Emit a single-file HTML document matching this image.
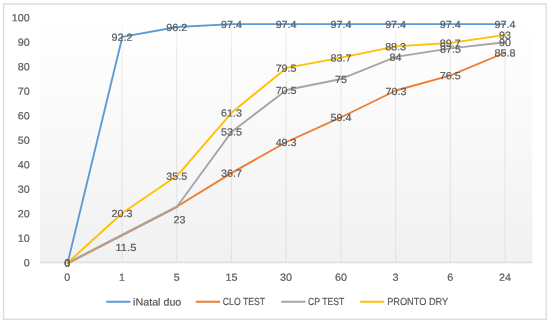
<!DOCTYPE html>
<html><head><meta charset="utf-8"><title>chart</title>
<style>
html,body{margin:0;padding:0;background:#fff;}
body{width:550px;height:324px;overflow:hidden;}
svg{display:block}
text{font-family:"Liberation Sans",sans-serif;font-size:10.3px;fill:#595959;stroke:#595959;stroke-width:0.2px}
</style></head><body>
<svg width="550" height="324" viewBox="0 0 550 324">
<defs><linearGradient id="pg" x1="0" y1="0" x2="0" y2="1">
<stop offset="0" stop-color="#ffffff"/><stop offset="0.3" stop-color="#fbfbfb"/><stop offset="1" stop-color="#f1f1f1"/></linearGradient>
<linearGradient id="gg" x1="0" y1="0" x2="0" y2="1">
<stop offset="0" stop-color="#ffffff"/><stop offset="0.07" stop-color="#efefef"/><stop offset="0.18" stop-color="#e6e6e6"/><stop offset="1" stop-color="#e1e1e1"/></linearGradient></defs>
<rect x="0" y="0" width="550" height="324" fill="#fff"/>
<rect x="3.6" y="3.9" width="542.6" height="315.4" fill="#fff" stroke="#dddddd" stroke-width="1.4"/>
<rect x="39.94" y="17.3" width="492.39" height="245.10" fill="url(#pg)"/>

<rect x="121.5" y="17.3" width="1" height="245.1" fill="url(#gg)"/>
<rect x="176.2" y="17.3" width="1" height="245.1" fill="url(#gg)"/>
<rect x="230.9" y="17.3" width="1" height="245.1" fill="url(#gg)"/>
<rect x="285.6" y="17.3" width="1" height="245.1" fill="url(#gg)"/>
<rect x="340.4" y="17.3" width="1" height="245.1" fill="url(#gg)"/>
<rect x="395.1" y="17.3" width="1" height="245.1" fill="url(#gg)"/>
<rect x="449.8" y="17.3" width="1" height="245.1" fill="url(#gg)"/>
<rect x="504.5" y="17.3" width="1" height="245.1" fill="url(#gg)"/>
<line x1="39.9" y1="262.4" x2="532.3" y2="262.4" stroke="#e0e0e0" stroke-width="1.5"/>
<text transform="rotate(0.03 29.7 266.3)" x="29.7" y="266.3" text-anchor="end" textLength="5.98" lengthAdjust="spacingAndGlyphs">0</text>
<text transform="rotate(0.03 29.7 241.8)" x="29.7" y="241.8" text-anchor="end" textLength="11.97" lengthAdjust="spacingAndGlyphs">10</text>
<text transform="rotate(0.03 29.7 217.3)" x="29.7" y="217.3" text-anchor="end" textLength="11.97" lengthAdjust="spacingAndGlyphs">20</text>
<text transform="rotate(0.03 29.7 192.8)" x="29.7" y="192.8" text-anchor="end" textLength="11.97" lengthAdjust="spacingAndGlyphs">30</text>
<text transform="rotate(0.03 29.7 168.3)" x="29.7" y="168.3" text-anchor="end" textLength="11.97" lengthAdjust="spacingAndGlyphs">40</text>
<text transform="rotate(0.03 29.7 143.8)" x="29.7" y="143.8" text-anchor="end" textLength="11.97" lengthAdjust="spacingAndGlyphs">50</text>
<text transform="rotate(0.03 29.7 119.2)" x="29.7" y="119.2" text-anchor="end" textLength="11.97" lengthAdjust="spacingAndGlyphs">60</text>
<text transform="rotate(0.03 29.7 94.7)" x="29.7" y="94.7" text-anchor="end" textLength="11.97" lengthAdjust="spacingAndGlyphs">70</text>
<text transform="rotate(0.03 29.7 70.2)" x="29.7" y="70.2" text-anchor="end" textLength="11.97" lengthAdjust="spacingAndGlyphs">80</text>
<text transform="rotate(0.03 29.7 45.7)" x="29.7" y="45.7" text-anchor="end" textLength="11.97" lengthAdjust="spacingAndGlyphs">90</text>
<text transform="rotate(0.03 29.7 21.2)" x="29.7" y="21.2" text-anchor="end" textLength="17.95" lengthAdjust="spacingAndGlyphs">100</text>
<text transform="rotate(0.03 67.3 280.8)" x="67.3" y="280.8" text-anchor="middle" textLength="5.98" lengthAdjust="spacingAndGlyphs">0</text>
<text transform="rotate(0.03 122.0 280.8)" x="122.0" y="280.8" text-anchor="middle" textLength="5.98" lengthAdjust="spacingAndGlyphs">1</text>
<text transform="rotate(0.03 176.7 280.8)" x="176.7" y="280.8" text-anchor="middle" textLength="5.98" lengthAdjust="spacingAndGlyphs">5</text>
<text transform="rotate(0.03 231.4 280.8)" x="231.4" y="280.8" text-anchor="middle" textLength="11.97" lengthAdjust="spacingAndGlyphs">15</text>
<text transform="rotate(0.03 286.1 280.8)" x="286.1" y="280.8" text-anchor="middle" textLength="11.97" lengthAdjust="spacingAndGlyphs">30</text>
<text transform="rotate(0.03 340.9 280.8)" x="340.9" y="280.8" text-anchor="middle" textLength="11.97" lengthAdjust="spacingAndGlyphs">60</text>
<text transform="rotate(0.03 395.6 280.8)" x="395.6" y="280.8" text-anchor="middle" textLength="5.98" lengthAdjust="spacingAndGlyphs">3</text>
<text transform="rotate(0.03 450.3 280.8)" x="450.3" y="280.8" text-anchor="middle" textLength="5.98" lengthAdjust="spacingAndGlyphs">6</text>
<text transform="rotate(0.03 505.0 280.8)" x="505.0" y="280.8" text-anchor="middle" textLength="11.97" lengthAdjust="spacingAndGlyphs">24</text>
<g transform="translate(0.35,0.4)">
<polyline points="67.30,262.40 122.01,36.42 176.72,26.61 231.43,23.67 286.14,23.67 340.85,23.67 395.56,23.67 450.27,23.67 504.98,23.67" fill="none" stroke="#5B9BD5" stroke-width="1.85" stroke-linejoin="round" stroke-linecap="round"/>
<polyline points="67.50,262.95 122.21,234.76 176.92,206.58" fill="none" stroke="#ED7D31" stroke-width="1.85" stroke-linejoin="round" stroke-linecap="round"/>
<polyline points="176.72,206.03 231.43,172.45 286.14,141.57 340.85,116.81 395.56,90.09 450.27,74.90 504.98,52.10" fill="none" stroke="#ED7D31" stroke-width="1.85" stroke-linejoin="round" stroke-linecap="round"/>
<polyline points="67.30,262.40 122.01,234.21 176.72,206.03 231.43,131.27 286.14,89.60 340.85,78.58 395.56,56.52 450.27,47.94 504.98,41.81" fill="none" stroke="#A5A5A5" stroke-width="1.85" stroke-linejoin="round" stroke-linecap="round"/>
<polyline points="67.30,262.40 122.01,212.64 176.72,175.39 231.43,112.15 286.14,67.55 340.85,57.25 395.56,45.98 450.27,42.55 504.98,34.46" fill="none" stroke="#FFC000" stroke-width="1.85" stroke-linejoin="round" stroke-linecap="round"/>
</g>
<text transform="rotate(0.03 67.3 266.5)" x="67.3" y="266.5" text-anchor="middle" textLength="5.98" lengthAdjust="spacingAndGlyphs">0</text>
<text transform="rotate(0.03 122.0 40.7)" x="122.0" y="40.7" text-anchor="middle" textLength="20.95" lengthAdjust="spacingAndGlyphs">92.2</text>
<text transform="rotate(0.03 176.7 30.9)" x="176.7" y="30.9" text-anchor="middle" textLength="20.95" lengthAdjust="spacingAndGlyphs">96.2</text>
<text transform="rotate(0.03 231.4 28.0)" x="231.4" y="28.0" text-anchor="middle" textLength="20.95" lengthAdjust="spacingAndGlyphs">97.4</text>
<text transform="rotate(0.03 286.1 28.0)" x="286.1" y="28.0" text-anchor="middle" textLength="20.95" lengthAdjust="spacingAndGlyphs">97.4</text>
<text transform="rotate(0.03 340.9 28.0)" x="340.9" y="28.0" text-anchor="middle" textLength="20.95" lengthAdjust="spacingAndGlyphs">97.4</text>
<text transform="rotate(0.03 395.6 28.0)" x="395.6" y="28.0" text-anchor="middle" textLength="20.95" lengthAdjust="spacingAndGlyphs">97.4</text>
<text transform="rotate(0.03 450.3 28.0)" x="450.3" y="28.0" text-anchor="middle" textLength="20.95" lengthAdjust="spacingAndGlyphs">97.4</text>
<text transform="rotate(0.03 505.0 28.0)" x="505.0" y="28.0" text-anchor="middle" textLength="20.95" lengthAdjust="spacingAndGlyphs">97.4</text>
<text transform="rotate(0.03 67.3 266.5)" x="67.3" y="266.5" text-anchor="middle" textLength="5.98" lengthAdjust="spacingAndGlyphs">0</text>
<text transform="rotate(0.03 125.9 251.0)" x="125.9" y="251.0" text-anchor="middle" textLength="20.95" lengthAdjust="spacingAndGlyphs">11.5</text>
<text transform="rotate(0.03 179.6 223.2)" x="179.6" y="223.2" text-anchor="middle" textLength="11.97" lengthAdjust="spacingAndGlyphs">23</text>
<text transform="rotate(0.03 231.4 176.7)" x="231.4" y="176.7" text-anchor="middle" textLength="20.95" lengthAdjust="spacingAndGlyphs">36.7</text>
<text transform="rotate(0.03 286.1 145.9)" x="286.1" y="145.9" text-anchor="middle" textLength="20.95" lengthAdjust="spacingAndGlyphs">49.3</text>
<text transform="rotate(0.03 340.9 121.1)" x="340.9" y="121.1" text-anchor="middle" textLength="20.95" lengthAdjust="spacingAndGlyphs">59.4</text>
<text transform="rotate(0.03 396.0 94.9)" x="396.0" y="94.9" text-anchor="middle" textLength="20.95" lengthAdjust="spacingAndGlyphs">70.3</text>
<text transform="rotate(0.03 450.3 79.2)" x="450.3" y="79.2" text-anchor="middle" textLength="20.95" lengthAdjust="spacingAndGlyphs">76.5</text>
<text transform="rotate(0.03 505.0 56.4)" x="505.0" y="56.4" text-anchor="middle" textLength="20.95" lengthAdjust="spacingAndGlyphs">85.8</text>
<text transform="rotate(0.03 231.4 135.6)" x="231.4" y="135.6" text-anchor="middle" textLength="20.95" lengthAdjust="spacingAndGlyphs">53.5</text>
<text transform="rotate(0.03 286.1 93.9)" x="286.1" y="93.9" text-anchor="middle" textLength="20.95" lengthAdjust="spacingAndGlyphs">70.5</text>
<text transform="rotate(0.03 340.9 82.9)" x="340.9" y="82.9" text-anchor="middle" textLength="11.97" lengthAdjust="spacingAndGlyphs">75</text>
<text transform="rotate(0.03 395.6 60.8)" x="395.6" y="60.8" text-anchor="middle" textLength="11.97" lengthAdjust="spacingAndGlyphs">84</text>
<text transform="rotate(0.03 450.4 52.8)" x="450.4" y="52.8" text-anchor="middle" textLength="20.95" lengthAdjust="spacingAndGlyphs">87.5</text>
<text transform="rotate(0.03 505.0 46.1)" x="505.0" y="46.1" text-anchor="middle" textLength="11.97" lengthAdjust="spacingAndGlyphs">90</text>
<text transform="rotate(0.03 122.0 216.9)" x="122.0" y="216.9" text-anchor="middle" textLength="20.95" lengthAdjust="spacingAndGlyphs">20.3</text>
<text transform="rotate(0.03 176.7 179.7)" x="176.7" y="179.7" text-anchor="middle" textLength="20.95" lengthAdjust="spacingAndGlyphs">35.5</text>
<text transform="rotate(0.03 231.4 116.5)" x="231.4" y="116.5" text-anchor="middle" textLength="20.95" lengthAdjust="spacingAndGlyphs">61.3</text>
<text transform="rotate(0.03 286.1 71.8)" x="286.1" y="71.8" text-anchor="middle" textLength="20.95" lengthAdjust="spacingAndGlyphs">79.5</text>
<text transform="rotate(0.03 340.9 61.6)" x="340.9" y="61.6" text-anchor="middle" textLength="20.95" lengthAdjust="spacingAndGlyphs">83.7</text>
<text transform="rotate(0.03 395.6 50.3)" x="395.6" y="50.3" text-anchor="middle" textLength="20.95" lengthAdjust="spacingAndGlyphs">88.3</text>
<text transform="rotate(0.03 450.3 46.8)" x="450.3" y="46.8" text-anchor="middle" textLength="20.95" lengthAdjust="spacingAndGlyphs">89.7</text>
<text transform="rotate(0.03 505.0 38.8)" x="505.0" y="38.8" text-anchor="middle" textLength="11.97" lengthAdjust="spacingAndGlyphs">93</text>
<line x1="107" y1="301.7" x2="129.7" y2="301.7" stroke="#5B9BD5" stroke-width="2" stroke-linecap="round"/>
<text transform="rotate(0.03 133.1 305.4)" x="133.1" y="305.4" textLength="48.2" lengthAdjust="spacingAndGlyphs">iNatal duo</text>
<line x1="196.6" y1="301.7" x2="219.3" y2="301.7" stroke="#ED7D31" stroke-width="2" stroke-linecap="round"/>
<text transform="rotate(0.03 222.8 305.4)" x="222.8" y="305.4" textLength="42.3" lengthAdjust="spacingAndGlyphs">CLO TEST</text>
<line x1="282" y1="301.7" x2="304.7" y2="301.7" stroke="#A5A5A5" stroke-width="2" stroke-linecap="round"/>
<text transform="rotate(0.03 308.1 305.4)" x="308.1" y="305.4" textLength="36.2" lengthAdjust="spacingAndGlyphs">CP TEST</text>
<line x1="361" y1="301.7" x2="383.5" y2="301.7" stroke="#FFC000" stroke-width="2" stroke-linecap="round"/>
<text transform="rotate(0.03 387.2 305.4)" x="387.2" y="305.4" textLength="61.0" lengthAdjust="spacingAndGlyphs">PRONTO DRY</text>
</svg></body></html>
